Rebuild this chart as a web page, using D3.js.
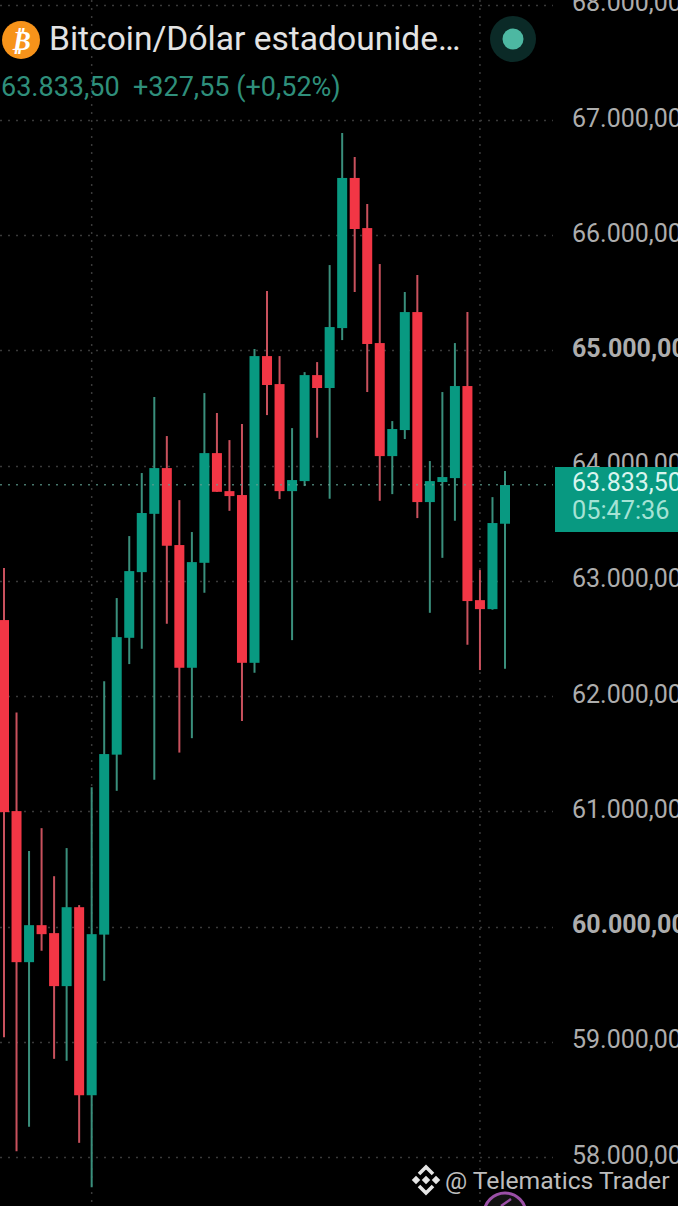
<!DOCTYPE html>
<html>
<head>
<meta charset="utf-8">
<script src="https://cdn.jsdelivr.net/npm/d3@7"></script>
<style>
html, body { margin: 0; padding: 0; background: #000; overflow: hidden; }
svg { display: block; }
text { font-family: Roboto, sans-serif; }
</style>
</head>
<body>
<div id="chart"></div>
<script>
var opens = [62660,61002,59691,60012,59943,59483,60168,58536,59930,61492,62506,63076,63582,63979,63311,62246,63157,64109,63779,63745,62289,64951,64708,63779,63866,64786,64674,65194,66497,66062,65064,64083,64309,65333,63684,63858,63892,64691,62833,62755,63496];
var highs = [63111,61857,60655,60854,60437,60681,60186,61210,62130,62851,63389,63936,64595,64257,63701,63424,64630,64457,64222,64361,65012,65516,64951,64326,64812,64899,65741,66887,66679,66271,65750,64387,65507,65655,64040,64639,65064,65333,63094,63727,63953];
var lows = [59040,58050,58263,59790,58852,58835,58123,57738,59529,61178,62278,62411,61274,62628,61510,61635,62897,63773,63608,61785,62202,64439,63710,62486,63823,64242,63713,65090,65507,64639,63695,63753,64231,63545,62723,63200,63522,62445,62226,62750,62237];
var closes = [60993,59691,60012,59934,59483,60168,58536,59934,61497,62512,63085,63589,63979,63305,62246,63163,64109,63773,63736,62289,64951,64700,63779,63875,64786,64674,65203,66497,66054,65056,64083,64318,65333,63684,63866,63901,64691,62825,62755,63502,63832];

var tickValues = [68000,67000,66000,65000,64000,63000,62000,61000,60000,59000,58000];
var tickLabels = ["68.000,00","67.000,00","66.000,00","65.000,00","64.000,00","63.000,00","62.000,00","61.000,00","60.000,00","59.000,00","58.000,00"];
var boldTicks = [65000, 60000];
var timeGridIndex = [7, 38];

var lastPrice = 63833.5;
var title = "Bitcoin/Dólar estadounide…";
var lastLabel = "63.833,50";
var changeLabel = "+327,55 (+0,52%)";
var countdown = "05:47:36";
var watermark = "@ Telematics Trader";

var width = 678,
height = 1206;

var green = "#089981", red = "#f23645";
var greenWick = "#3a8f7c", redWick = "#c9515d";

var svg = d3.select("#chart").append("svg")
  .attr("width", width)
  .attr("height", height)
  .style("background", "#000");

var y = d3.scaleLinear().domain([67000, 58000]).range([120, 1157]);
var x = d3.scaleLinear().domain([0, 40]).range([4, 505]);

// grid
svg.append("g").selectAll("line")
  .data(tickValues)
  .enter().append("line")
  .attr("x1", 0).attr("x2", 553)
  .attr("y1", function(d) { return Math.round(y(d)) + 0.5; })
  .attr("y2", function(d) { return Math.round(y(d)) + 0.5; })
  .attr("stroke", "#3a3a3a").attr("stroke-width", 1.5)
  .attr("stroke-dasharray", "2 6");

svg.append("g").selectAll("line")
  .data(timeGridIndex)
  .enter().append("line")
  .attr("x1", function(d) { return x(d); })
  .attr("x2", function(d) { return x(d); })
  .attr("y1", 0).attr("y2", height)
  .attr("stroke", "#3a3a3a").attr("stroke-width", 1.5)
  .attr("stroke-dasharray", "2 6");

// candles
var candles = svg.append("g").selectAll("g")
  .data(d3.range(opens.length))
  .enter().append("g");

candles.append("line")
  .attr("x1", function(i) { return x(i); })
  .attr("x2", function(i) { return x(i); })
  .attr("y1", function(i) { return y(highs[i]); })
  .attr("y2", function(i) { return y(lows[i]); })
  .attr("stroke", function(i) { return closes[i] >= opens[i] ? greenWick : redWick; })
  .attr("stroke-width", 2);

candles.append("rect")
  .attr("x", function(i) { return x(i) - 5; })
  .attr("width", 10)
  .attr("y", function(i) { return y(Math.max(opens[i], closes[i])); })
  .attr("height", function(i) { return Math.abs(y(opens[i]) - y(closes[i])); })
  .attr("fill", function(i) { return closes[i] >= opens[i] ? green : red; });

// last price line
svg.append("line")
  .attr("x1", 0).attr("x2", 553)
  .attr("y1", y(lastPrice)).attr("y2", y(lastPrice))
  .attr("stroke", "#5f9f90").attr("stroke-opacity", 0.75).attr("stroke-width", 1.5)
  .attr("stroke-dasharray", "2 6");

// price axis, labels run off the right edge like on the phone
var axis = d3.axisRight(y)
  .tickValues(tickValues)
  .tickSize(0)
  .tickPadding(0)
  .tickFormat(function(d, i) { return tickLabels[i]; });

var axisG = svg.append("g")
  .attr("transform", "translate(572,-2)")
  .call(axis);
axisG.select(".domain").remove();
axisG.selectAll("text")
  .attr("fill", "#adadad")
  .attr("font-size", 25)
  .style("font-weight", function(d) { return boldTicks.indexOf(d) >= 0 ? 700 : 400; });

// last price tag
svg.append("rect")
  .attr("x", 555).attr("y", 467)
  .attr("width", 123).attr("height", 65)
  .attr("fill", green);
svg.append("text").text(lastLabel)
  .attr("x", 572).attr("y", 491)
  .attr("font-size", 25).attr("fill", "#d8f5ee");
svg.append("text").text(countdown)
  .attr("x", 572).attr("y", 519)
  .attr("font-size", 25.3).attr("fill", "#a5e3d5");

// header
svg.append("circle").attr("cx", 21).attr("cy", 40).attr("r", 19).attr("fill", "#f7931a");
svg.append("text").text("₿")
  .attr("x", 21).attr("y", 50)
  .attr("text-anchor", "middle")
  .attr("font-size", 27).attr("font-weight", 700).attr("font-style", "italic")
  .style("font-family", "DejaVu Sans")
  .attr("fill", "#fff");
svg.append("text").text(title)
  .attr("x", 49).attr("y", 50)
  .attr("font-size", 33.6).attr("fill", "#e3e3e3");
svg.append("text").text(lastLabel)
  .attr("x", 1).attr("y", 96)
  .attr("font-size", 27).attr("fill", "#2f8f7b");
svg.append("text").text(changeLabel)
  .attr("x", 133).attr("y", 96)
  .attr("font-size", 27).attr("fill", "#2f8f7b");

svg.append("circle").attr("cx", 513).attr("cy", 39).attr("r", 23).attr("fill", "#0b2a27");
svg.append("circle").attr("cx", 513).attr("cy", 39).attr("r", 10.5).attr("fill", "#4db8a2");

// watermark
var logo = svg.append("g").attr("transform", "translate(426,1180)");
logo.selectAll("rect")
  .data([[-10, 0, 3], [10, 0, 3], [0, 0, 3]])
  .enter().append("rect")
  .attr("x", function(d) { return d[0] - d[2]; })
  .attr("y", function(d) { return d[1] - d[2]; })
  .attr("width", function(d) { return d[2] * 2; })
  .attr("height", function(d) { return d[2] * 2; })
  .attr("transform", function(d) { return "rotate(45," + d[0] + "," + d[1] + ")"; })
  .attr("fill", "#e6e6e6");
logo.append("path")
  .attr("d", "M-7,-6 L0,-13 L7,-6 M-7,6 L0,13 L7,6")
  .attr("fill", "none").attr("stroke", "#e6e6e6").attr("stroke-width", 3.6);
svg.append("text").text(watermark)
  .attr("x", 445).attr("y", 1189)
  .attr("font-size", 24.7).attr("fill", "#bdbdbd");

svg.append("circle")
  .attr("cx", 505).attr("cy", 1214).attr("r", 21)
  .attr("fill", "#111").attr("stroke", "#9a4fa6").attr("stroke-width", 3);
svg.append("line")
  .attr("x1", 501).attr("y1", 1206).attr("x2", 511).attr("y2", 1199)
  .attr("stroke", "#9a4fa6").attr("stroke-width", 2.5);
</script>
</body>
</html>
